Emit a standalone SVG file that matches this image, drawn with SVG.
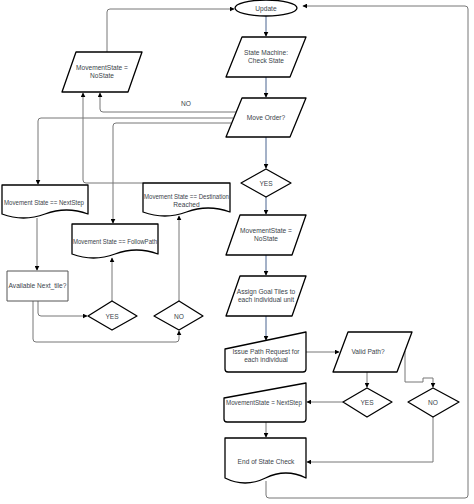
<svg xmlns="http://www.w3.org/2000/svg" width="474" height="504" viewBox="0 0 474 504">
<style>
.s{fill:#fff;stroke:#000;stroke-width:1.3;stroke-linejoin:round}
.c{fill:none;stroke:#777;stroke-width:1}
.cb{fill:none;stroke:#4a6590;stroke-width:1}
text{font-family:"Liberation Sans",Arial,sans-serif;font-size:6.6px;fill:#3a3f4a;text-anchor:middle}
</style>
<defs>
<marker id="a" viewBox="0 0 8 8" refX="7" refY="4" markerWidth="5" markerHeight="5" orient="auto" markerUnits="userSpaceOnUse">
<path d="M0,0 L8,4 L0,8 Z" fill="#000"/>
</marker>
</defs>
<rect width="474" height="504" fill="#fff"/>
<g id="connectors">
<path class="c" d="M107,52 V12 Q107,9 110,9 H234" marker-end="url(#a)"/>
<path class="c" d="M266,481 V495 Q266,498 269,498 H465 Q468,498 468,495 V9 Q468,6 465,6 H303" marker-end="url(#a)"/>
<path class="cb" d="M266,16 V36" marker-end="url(#a)"/>
<path class="cb" d="M266,77 V97" marker-end="url(#a)"/>
<path class="cb" d="M266,137 V168" marker-end="url(#a)"/>
<path class="cb" d="M266,197 V214" marker-end="url(#a)"/>
<path class="cb" d="M266,255 V275" marker-end="url(#a)"/>
<path class="cb" d="M266,316 V340" marker-end="url(#a)"/>
<path class="c" d="M306,352 H339" marker-end="url(#a)"/>
<path class="c" d="M367,372 V387" marker-end="url(#a)"/>
<path class="c" d="M405,351 V382 H423 V378 H433 V387" marker-end="url(#a)"/>
<path class="c" d="M343,402 H307" marker-end="url(#a)"/>
<path class="c" d="M266,422 V437" marker-end="url(#a)"/>
<path class="c" d="M433,417 V462 H307" marker-end="url(#a)"/>
<path class="c" d="M236,112 H103 Q100,112 100,109 V93" marker-end="url(#a)"/>
<text x="186" y="106">NO</text>
<path class="c" d="M143,183 H86 Q83,183 83,180 V93" marker-end="url(#a)"/>
<path class="c" d="M233,118 H41 Q38,118 38,121 V184" marker-end="url(#a)"/>
<path class="c" d="M231,123 H116 Q113,123 113,126 V223" marker-end="url(#a)"/>
<path class="c" d="M37,218 V270" marker-end="url(#a)"/>
<path class="c" d="M38,301 V313 Q38,316 41,316 H87" marker-end="url(#a)"/>
<path class="c" d="M33,301 V339 Q33,342 36,342 H176 Q179,342 179,339 V331" marker-end="url(#a)"/>
<path class="c" d="M112,301 V258" marker-end="url(#a)"/>
<path class="c" d="M179,301 V216" marker-end="url(#a)"/>
</g>
<g id="update">
<ellipse class="s" cx="266" cy="8" rx="31" ry="8"/>
<text x="266" y="10.5">Update</text>
</g>
<g id="state-machine">
<path class="s" d="M242,37 H306 L290,77 H226 Z"/>
<text x="266" y="55">State Machine:</text>
<text x="266" y="63">Check State</text>
</g>
<g id="move-order">
<path class="s" d="M242,98 H306 L290,137 H226 Z"/>
<text x="266" y="120">Move Order?</text>
</g>
<g id="yes-center">
<path class="s" d="M266,169 L291,183 L266,197 L241,183 Z"/>
<text x="266" y="185.5">YES</text>
</g>
<g id="nostate-right">
<path class="s" d="M240,215 H306 L292,255 H226 Z"/>
<text x="266" y="233">MovementState =</text>
<text x="266" y="241">NoState</text>
</g>
<g id="assign-goal">
<path class="s" d="M240,276 H306 L292,316 H226 Z"/>
<text x="266" y="294">Assign Goal Tiles to</text>
<text x="266" y="302">each individual unit</text>
</g>
<g id="issue-path">
<path class="s" d="M225,349 L306,332 V369 Q306,372 303,372 H228 Q225,372 225,369 Z"/>
<text x="266" y="354">Issue Path Request for</text>
<text x="266" y="362">each individual</text>
</g>
<g id="valid-path">
<path class="s" d="M348,332 H412 L397,372 H333 Z"/>
<text x="368" y="354">Valid Path?</text>
</g>
<g id="yes-valid">
<path class="s" d="M367,388 L392,402 L367,417 L343,402 Z"/>
<text x="367" y="404.5">YES</text>
</g>
<g id="no-valid">
<path class="s" d="M433,388 L459,402 L433,417 L408,402 Z"/>
<text x="433" y="404.5">NO</text>
</g>
<g id="nextstep-set">
<path class="s" d="M224,398 L306,383 V419 Q306,422 303,422 H227 Q224,422 224,419 Z"/>
<text x="264" y="405" textLength="76" lengthAdjust="spacingAndGlyphs">MovementState = NextStep</text>
</g>
<g id="end-state-check">
<path class="s" d="M225,438 H306 V478 Q286,468 265.5,478 Q245,488 225,478 Z"/>
<text x="266" y="464">End of State Check</text>
</g>
<g id="nostate-left">
<path class="s" d="M76,52 H142 L128,92 H62 Z"/>
<text x="102" y="70">MovementState =</text>
<text x="102" y="78">NoState</text>
</g>
<g id="state-nextstep">
<path class="s" d="M2,185 H88 V214 Q66.5,206 45,214 Q23.5,222 2,214 Z"/>
<text x="44" y="205" textLength="80" lengthAdjust="spacingAndGlyphs">Movement State == NextStep</text>
</g>
<g id="state-destination">
<path class="s" d="M143,183 H230 V212 Q208,204 186.5,212 Q165,220 143,212 Z"/>
<text x="186.5" y="199" textLength="85" lengthAdjust="spacingAndGlyphs">Movement State == Destination</text>
<text x="186.5" y="207">Reached</text>
</g>
<g id="state-followpath">
<path class="s" d="M72,224 H158 V254 Q136.5,246 115,254 Q93.5,262 72,254 Z"/>
<text x="115" y="244" textLength="84" lengthAdjust="spacingAndGlyphs">Movement State == FollowPath</text>
</g>
<g id="available-next">
<rect class="s" x="7" y="271" width="61" height="30" style="stroke:#555;stroke-width:1"/>
<text x="37.5" y="288">Available Next_tile?</text>
</g>
<g id="yes-left">
<path class="s" d="M112,301 L137,316 L112,330 L88,316 Z"/>
<text x="112" y="318.5">YES</text>
</g>
<g id="no-left">
<path class="s" d="M179,301 L203,316 L179,330 L154,316 Z"/>
<text x="179" y="318.5">NO</text>
</g>
</svg>
